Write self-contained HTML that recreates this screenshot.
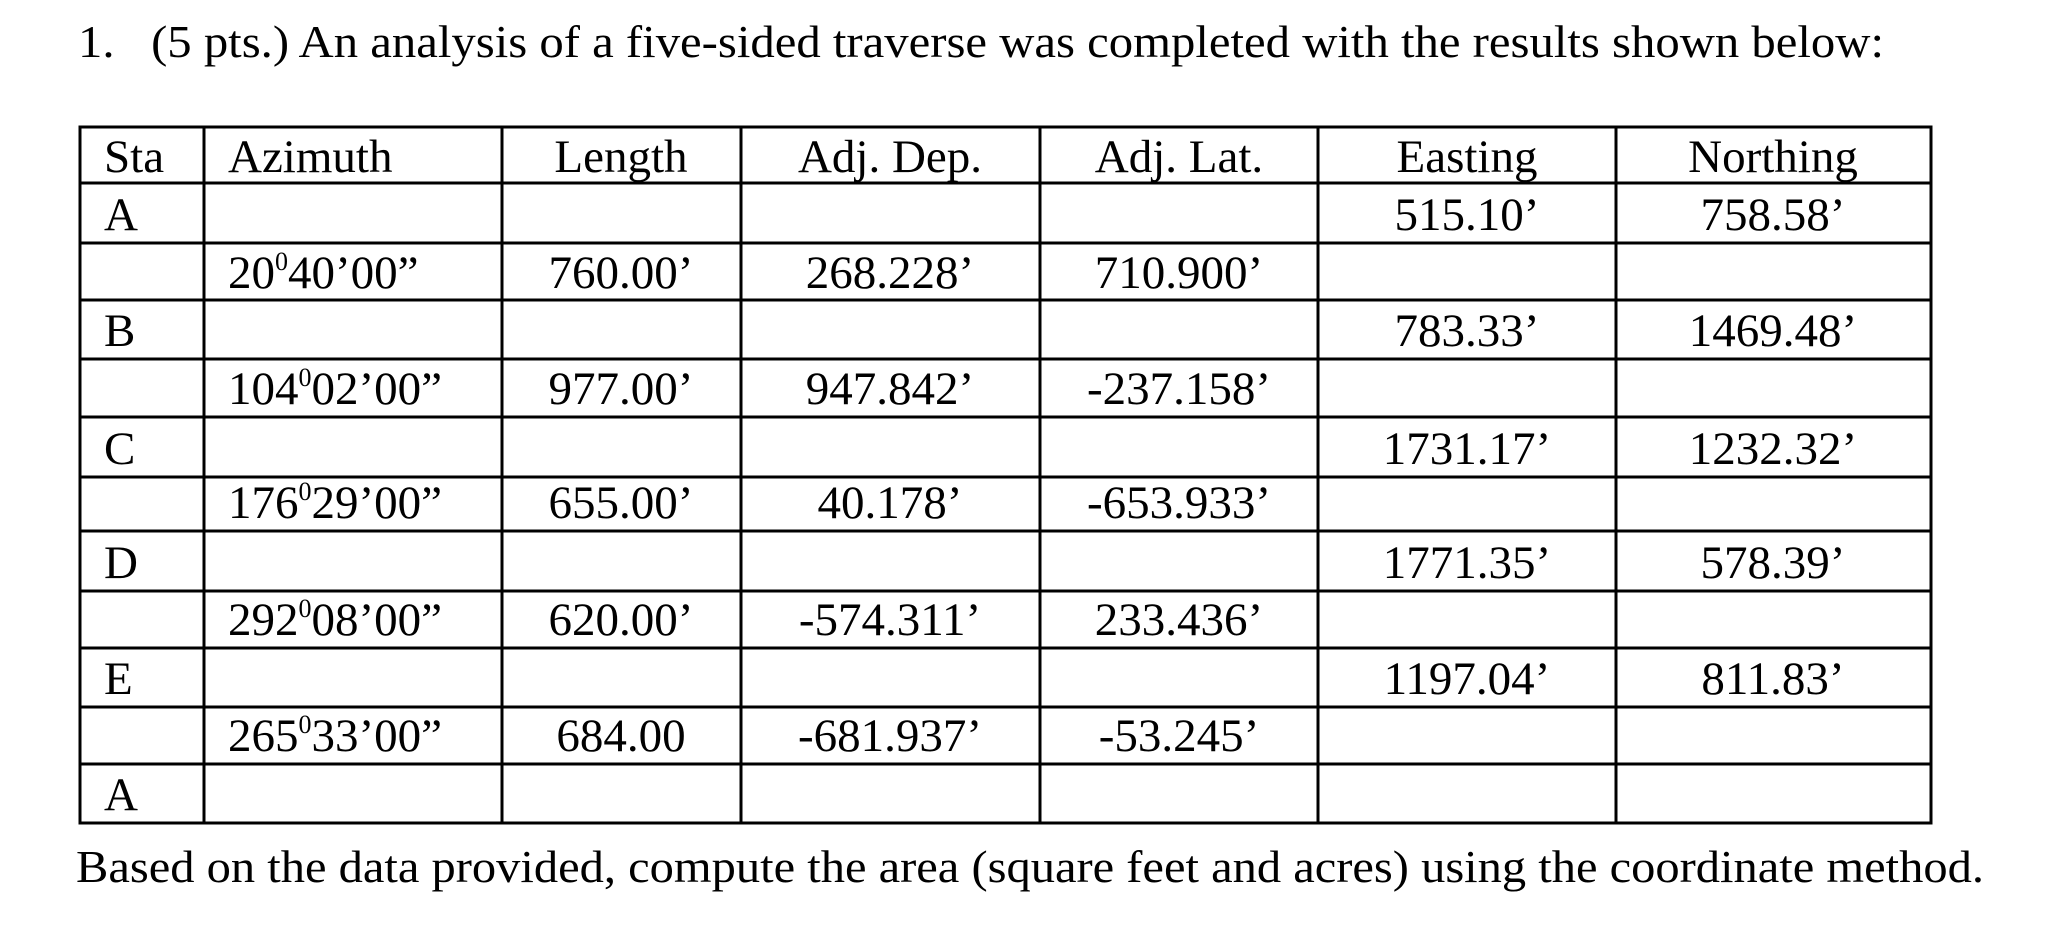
<!DOCTYPE html>
<html><head><meta charset="utf-8"><style>
html,body{margin:0;padding:0;background:#fff;}
svg{display:block;}
text{font-family:"Liberation Serif",serif;fill:#000;}
</style></head><body>
<svg width="2046" height="948" viewBox="0 0 2046 948" xmlns="http://www.w3.org/2000/svg">
<text x="78" y="57" font-size="46" textLength="1806" lengthAdjust="spacingAndGlyphs">1.&#160;&#160;&#160;(5 pts.) An analysis of a five-sided traverse was completed with the results shown below:</text>
<g stroke="#000" stroke-width="3" fill="none">
<rect x="80" y="127" width="1851" height="696"/>
<line x1="204" y1="127" x2="204" y2="823"/>
<line x1="502" y1="127" x2="502" y2="823"/>
<line x1="741" y1="127" x2="741" y2="823"/>
<line x1="1040" y1="127" x2="1040" y2="823"/>
<line x1="1318" y1="127" x2="1318" y2="823"/>
<line x1="1616" y1="127" x2="1616" y2="823"/>
<line x1="80" y1="183" x2="1931" y2="183"/>
<line x1="80" y1="243" x2="1931" y2="243"/>
<line x1="80" y1="300" x2="1931" y2="300"/>
<line x1="80" y1="359" x2="1931" y2="359"/>
<line x1="80" y1="417" x2="1931" y2="417"/>
<line x1="80" y1="477" x2="1931" y2="477"/>
<line x1="80" y1="531" x2="1931" y2="531"/>
<line x1="80" y1="591" x2="1931" y2="591"/>
<line x1="80" y1="648" x2="1931" y2="648"/>
<line x1="80" y1="707" x2="1931" y2="707"/>
<line x1="80" y1="764" x2="1931" y2="764"/>
</g>
<g font-size="47">
<text x="104" y="172">Sta</text>
<text x="228" y="172">Azimuth</text>
<text x="621" y="172" text-anchor="middle">Length</text>
<text x="890" y="172" text-anchor="middle">Adj. Dep.</text>
<text x="1179" y="172" text-anchor="middle">Adj. Lat.</text>
<text x="1467" y="172" text-anchor="middle">Easting</text>
<text x="1773" y="172" text-anchor="middle">Northing</text>

<text x="104" y="230">A</text>
<text x="1467" y="230" text-anchor="middle">515.10’</text>
<text x="1773" y="230" text-anchor="middle">758.58’</text>

<text x="228" y="288">20<tspan font-size="26" dy="-18">0</tspan><tspan dy="18">40’00”</tspan></text>
<text x="621" y="288" text-anchor="middle">760.00’</text>
<text x="890" y="288" text-anchor="middle">268.228’</text>
<text x="1179" y="288" text-anchor="middle">710.900’</text>

<text x="104" y="346">B</text>
<text x="1467" y="346" text-anchor="middle">783.33’</text>
<text x="1773" y="346" text-anchor="middle">1469.48’</text>

<text x="228" y="404">104<tspan font-size="26" dy="-18">0</tspan><tspan dy="18">02’00”</tspan></text>
<text x="621" y="404" text-anchor="middle">977.00’</text>
<text x="890" y="404" text-anchor="middle">947.842’</text>
<text x="1179" y="404" text-anchor="middle">-237.158’</text>

<text x="104" y="464">C</text>
<text x="1467" y="464" text-anchor="middle">1731.17’</text>
<text x="1773" y="464" text-anchor="middle">1232.32’</text>

<text x="228" y="518">176<tspan font-size="26" dy="-18">0</tspan><tspan dy="18">29’00”</tspan></text>
<text x="621" y="518" text-anchor="middle">655.00’</text>
<text x="890" y="518" text-anchor="middle">40.178’</text>
<text x="1179" y="518" text-anchor="middle">-653.933’</text>

<text x="104" y="578">D</text>
<text x="1467" y="578" text-anchor="middle">1771.35’</text>
<text x="1773" y="578" text-anchor="middle">578.39’</text>

<text x="228" y="635">292<tspan font-size="26" dy="-18">0</tspan><tspan dy="18">08’00”</tspan></text>
<text x="621" y="635" text-anchor="middle">620.00’</text>
<text x="890" y="635" text-anchor="middle">-574.311’</text>
<text x="1179" y="635" text-anchor="middle">233.436’</text>

<text x="104" y="694">E</text>
<text x="1467" y="694" text-anchor="middle">1197.04’</text>
<text x="1773" y="694" text-anchor="middle">811.83’</text>

<text x="228" y="751">265<tspan font-size="26" dy="-18">0</tspan><tspan dy="18">33’00”</tspan></text>
<text x="621" y="751" text-anchor="middle">684.00</text>
<text x="890" y="751" text-anchor="middle">-681.937’</text>
<text x="1179" y="751" text-anchor="middle">-53.245’</text>

<text x="104" y="810">A</text>
</g>
<text x="76" y="882" font-size="46" textLength="1908" lengthAdjust="spacingAndGlyphs">Based on the data provided, compute the area (square feet and acres) using the coordinate method.</text>
</svg>
</body></html>
